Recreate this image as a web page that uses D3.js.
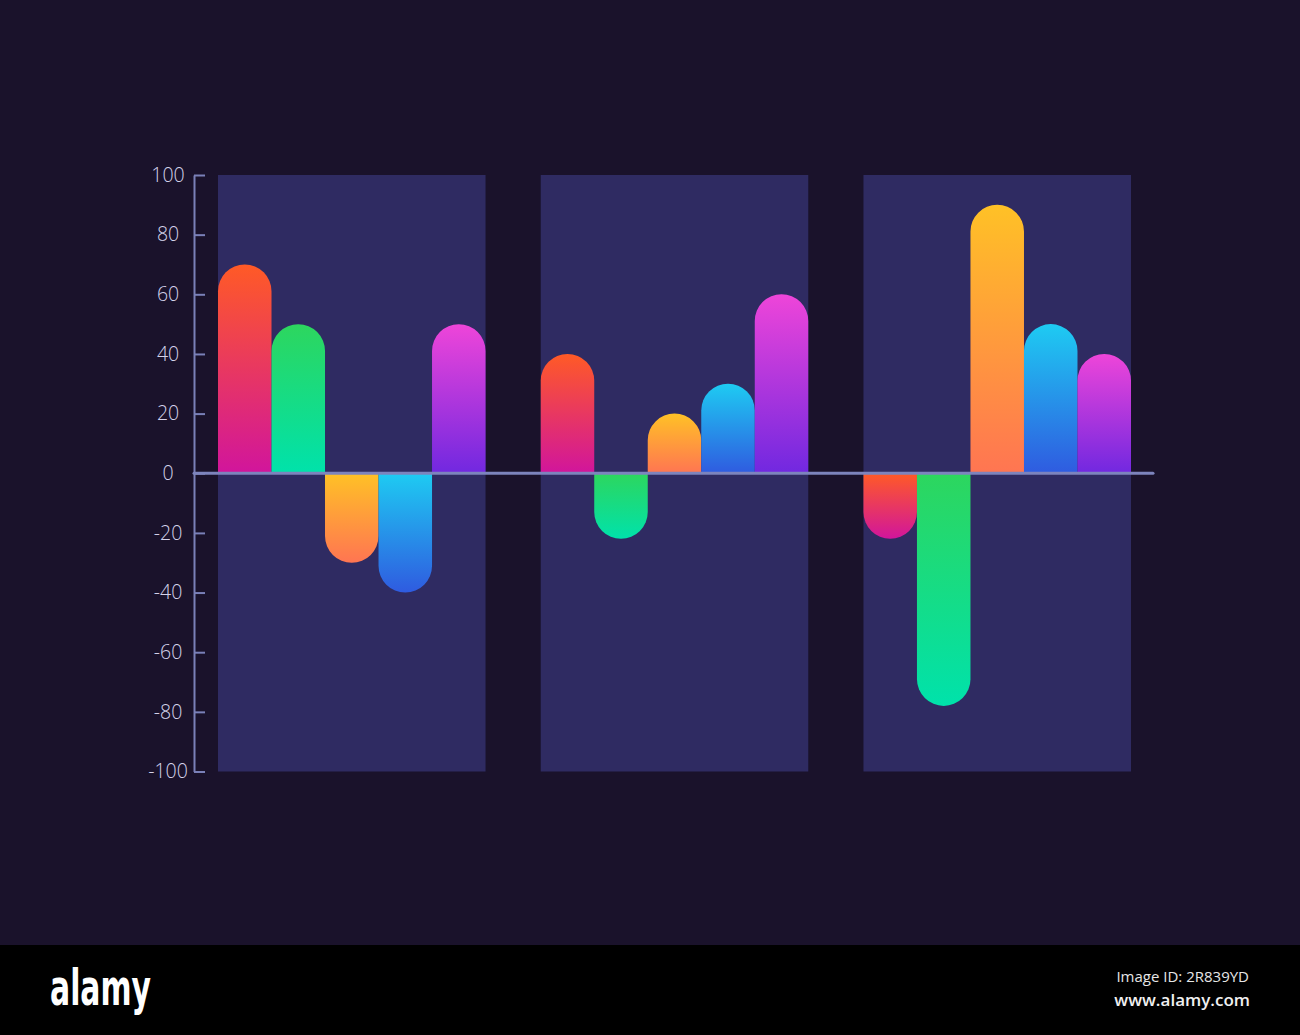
<!DOCTYPE html>
<html>
<head>
<meta charset="utf-8">
<script src="https://cdn.jsdelivr.net/npm/d3@7"></script>
<style>
  html, body { margin: 0; padding: 0; background: #1a122b; }
  svg { display: block; }
</style>
</head>
<body>
<svg id="chart" width="1300" height="1035"></svg>
<script>
// ---- data ----
const groups = ["Group 1", "Group 2", "Group 3"];
const seriesNames = ["Series A", "Series B", "Series C", "Series D", "Series E"];
const group1Values = [70, 50, -30, -40, 50];
const group2Values = [40, -22, 20, 30, 60];
const group3Values = [-22, -78, 90, 50, 40];
const tickValues = [100, 80, 60, 40, 20, 0, -20, -40, -60, -80, -100];
const tickLabels = ["100", "80", "60", "40", "20", "0", "-20", "-40", "-60", "-80", "-100"];
const seriesTopColors = ["#ff5a26", "#2dd65e", "#ffc126", "#1ecbf2", "#ee45d9"];
const seriesBottomColors = ["#d1159c", "#00e2ab", "#ff7552", "#2f5be0", "#7128e0"];

const values = [group1Values, group2Values, group3Values];

const svg = d3.select("#chart");
svg.append("rect").attr("width", 1300).attr("height", 1035).attr("fill", "#1a122b");

// gradients
const defs = svg.append("defs");
seriesNames.forEach((s, i) => {
  const g = defs.append("linearGradient")
    .attr("id", "grad" + i)
    .attr("x1", 0).attr("y1", 0).attr("x2", 0).attr("y2", 1);
  g.append("stop").attr("offset", "0%").attr("stop-color", seriesTopColors[i]);
  g.append("stop").attr("offset", "100%").attr("stop-color", seriesBottomColors[i]);
});

const y = d3.scaleLinear().domain([-100, 100]).range([771.5, 175]);
const x0 = d3.scaleBand().domain(groups).range([218, 1131]).paddingInner(0.171).paddingOuter(0);
const x1 = d3.scaleBand().domain(seriesNames).range([0, x0.bandwidth()]).padding(0);

// panels
svg.append("g").selectAll("rect").data(groups).join("rect")
  .attr("x", d => x0(d))
  .attr("y", y(100))
  .attr("width", x0.bandwidth())
  .attr("height", y(-100) - y(100))
  .attr("fill", "#2f2b62");

// bars
function capsule(xl, w, v) {
  const r = w / 2;
  const yz = y(0), yv = y(v);
  const p = d3.path();
  if (v >= 0) {
    p.moveTo(xl, yz);
    p.lineTo(xl, Math.min(yz, yv + r));
    p.arc(xl + r, yv + r, r, Math.PI, 0, false);
    p.lineTo(xl + w, yz);
  } else {
    p.moveTo(xl, yz);
    p.lineTo(xl, Math.max(yz, yv - r));
    p.arc(xl + r, yv - r, r, Math.PI, 0, true);
    p.lineTo(xl + w, yz);
  }
  p.closePath();
  return p.toString();
}

groups.forEach((g, gi) => {
  svg.append("g").selectAll("path").data(values[gi]).join("path")
    .attr("d", (v, i) => capsule(x0(g) + x1(seriesNames[i]), x1.bandwidth(), v))
    .attr("fill", (v, i) => `url(#grad${i})`);
});

// y axis
const axisColor = "#7a80b8";
const axis = d3.axisLeft(y).tickValues(tickValues).tickSize(0).tickPadding(0)
  .tickFormat((d, i) => tickLabels[i]);
const ax = svg.append("g").attr("transform", "translate(194,0)").call(axis);
ax.select(".domain").attr("stroke", axisColor).attr("stroke-width", 2);
ax.selectAll(".tick text")
  .attr("x", -26)
  .attr("text-anchor", "middle")
  .attr("fill", "#d4d2ea")
  .attr("font-family", "'Open Sans', 'Noto Sans', sans-serif")
  .attr("font-size", 19.5)
  .attr("font-weight", 300);
ax.selectAll(".tick").append("line")
  .attr("x1", 0).attr("x2", 11)
  .attr("stroke", axisColor).attr("stroke-width", 2);

// zero line
svg.append("line")
  .attr("x1", 194).attr("x2", 1153)
  .attr("y1", y(0)).attr("y2", y(0))
  .attr("stroke", "#7d84bd").attr("stroke-width", 3)
  .attr("stroke-linecap", "round");

// footer
svg.append("rect").attr("x", 0).attr("y", 945).attr("width", 1300).attr("height", 90).attr("fill", "#000");
svg.append("text")
  .attr("x", 50).attr("y", 1005)
  .attr("fill", "#ffffff")
  .attr("font-family", "'Liberation Sans Narrow', 'DejaVu Sans Condensed', sans-serif")
  .attr("font-weight", 700)
  .attr("font-size", 50)
  .attr("textLength", 101)
  .attr("lengthAdjust", "spacingAndGlyphs")
  .text("alamy");
svg.append("text")
  .attr("x", 1249).attr("y", 982)
  .attr("text-anchor", "end")
  .attr("fill", "#e6e6e6")
  .attr("font-family", "'Open Sans', 'Noto Sans', sans-serif")
  .attr("font-size", 15)
  .text("Image ID: 2R839YD");
svg.append("text")
  .attr("x", 1250).attr("y", 1006)
  .attr("text-anchor", "end")
  .attr("fill", "#f0f0f0")
  .attr("font-family", "'Open Sans', 'Noto Sans', sans-serif")
  .attr("font-weight", 600)
  .attr("font-size", 17)
  .text("www.alamy.com");
</script>
</body>
</html>
